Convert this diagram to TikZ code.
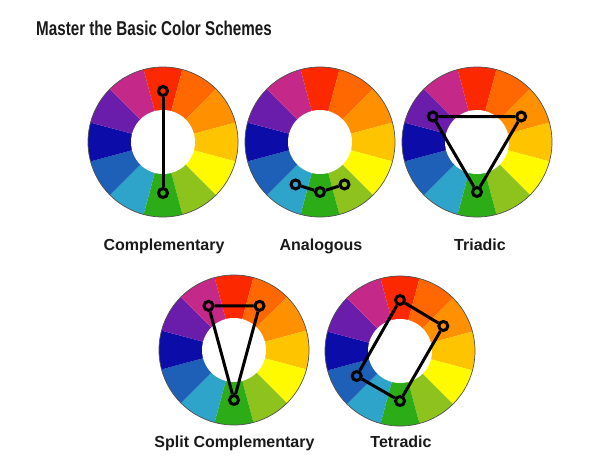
\documentclass[tikz,border=0pt]{standalone}
\usepackage{fontspec}
\setmainfont{Liberation Sans}
\newfontfamily\titlefont{Liberation Sans}[FakeStretch=0.76]
\definecolor{cR}{RGB}{252,40,0}
\definecolor{cRO}{RGB}{255,104,0}
\definecolor{cO}{RGB}{255,145,0}
\definecolor{cYO}{RGB}{255,196,0}
\definecolor{cY}{RGB}{255,250,0}
\definecolor{cYG}{RGB}{142,195,30}
\definecolor{cG}{RGB}{44,172,22}
\definecolor{cC}{RGB}{46,164,202}
\definecolor{cB}{RGB}{30,96,184}
\definecolor{cDB}{RGB}{12,12,168}
\definecolor{cV}{RGB}{106,28,170}
\definecolor{cM}{RGB}{196,40,136}
\definecolor{labeltext}{RGB}{26,26,26}
\definecolor{wheelrim}{RGB}{80,80,80}
\tikzset{
  mk/.style={circle, draw=black, line width=3pt, minimum size=9pt, inner sep=0pt},
  link/.style={draw=black, line width=3pt},
  lbl/.style={font=\fontsize{16}{18}\selectfont\bfseries, text=labeltext, anchor=base},
  wheel/.pic={
    \foreach \c [count=\i from 0] in {cR,cRO,cO,cYO,cY,cYG,cG,cC,cB,cDB,cV,cM}{
      \fill[\c] (0,0) -- ({105-30*\i}:75pt) arc[start angle={105-30*\i}, end angle={75-30*\i}, radius=75pt] -- cycle;
    }
    \fill[white] (0,0) circle[radius=32pt];
    \draw[wheelrim, line width=0.7pt] (0,0) circle[radius=75pt];
  }
}
\begin{document}
\begin{tikzpicture}[x=1pt,y=1pt]
\useasboundingbox (0,0) rectangle (600,-472);
\fill[white] (0,0) rectangle (600,-472);
\node[anchor=base west, inner sep=0pt, font=\titlefont\fontsize{20}{24}\selectfont\bfseries, text=labeltext] (title) at (36,-35) {Master the Basic Color Schemes};

\coordinate (w1) at (163,-142);
\coordinate (w2) at (320,-142);
\coordinate (w3) at (477,-142);
\coordinate (w4) at (234,-350);
\coordinate (w5) at (400,-351);
\pic at (w1) {wheel};
\pic at (w2) {wheel};
\pic at (w3) {wheel};
\pic at (w4) {wheel};
\pic at (w5) {wheel};

% Complementary
\node[mk] (c1) at ([shift={(90:51pt)}]w1) {};
\node[mk] (c2) at ([shift={(270:51pt)}]w1) {};
\draw[link] (c1) -- (c2);

% Analogous
\node[mk] (a1) at ([shift={(240:49pt)}]w2) {};
\node[mk] (a2) at ([shift={(270:50pt)}]w2) {};
\node[mk] (a3) at ([shift={(300:49pt)}]w2) {};
\draw[link] (a1) -- (a2) -- (a3);

% Triadic
\node[mk] (t1) at ([shift={(150:51pt)}]w3) {};
\node[mk] (t2) at ([shift={(30:51pt)}]w3) {};
\node[mk] (t3) at ([shift={(270:50pt)}]w3) {};
\draw[link] (t1) -- (t2) -- (t3) -- (t1);

% Split complementary
\node[mk] (s1) at ([shift={(120:51pt)}]w4) {};
\node[mk] (s2) at ([shift={(60:51pt)}]w4) {};
\node[mk] (s3) at ([shift={(270:50pt)}]w4) {};
\draw[link] (s1) -- (s2) -- (s3) -- (s1);

% Tetradic
\node[mk] (q1) at ([shift={(90:51pt)}]w5) {};
\node[mk] (q2) at ([shift={(30:50pt)}]w5) {};
\node[mk] (q3) at ([shift={(270:50pt)}]w5) {};
\node[mk] (q4) at ([shift={(210:50pt)}]w5) {};
\draw[link] (q1) -- (q2) -- (q3) -- (q4) -- (q1);

\node[lbl] (l1) at (164,-250) {Complementary};
\node[lbl] (l2) at (321,-250) {Analogous};
\node[lbl] (l3) at (480,-250) {Triadic};
\node[lbl] (l4) at (234.5,-447) {Split Complementary};
\node[lbl] (l5) at (401,-447) {Tetradic};
\end{tikzpicture}
\end{document}
